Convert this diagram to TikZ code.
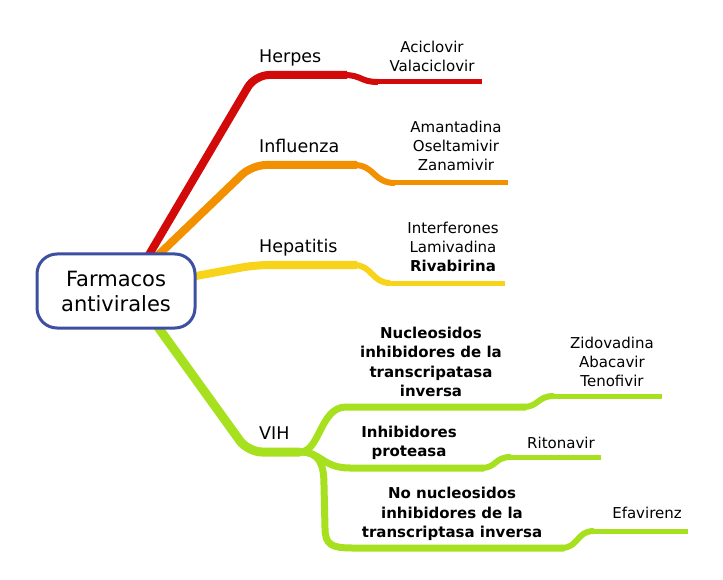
\documentclass[tikz,border=0pt]{standalone}
\usepackage{fontspec}
\setmainfont{DejaVu Sans}
\usepackage{tikz}
\usetikzlibrary{backgrounds}
\definecolor{herpesred}{HTML}{D20A0A}
\definecolor{fluorange}{HTML}{F29000}
\definecolor{hepyellow}{HTML}{F7D31A}
\definecolor{vihgreen}{HTML}{A6E01E}
\definecolor{rootblue}{HTML}{3D4FA0}
\tikzset{
  topic/.style={anchor=base west, inner sep=0pt,
    font=\fontsize{17.5}{21}\selectfont},
  drugs/.style={align=center, inner sep=0pt,
    font=\fontsize{15}{19}\selectfont},
  group/.style={align=center, inner sep=0pt,
    font=\fontsize{15}{19.5}\selectfont\bfseries},
  trunk/.style={line width=8pt, rounded corners=14pt},
  limb/.style={line width=7pt},
  swerve/.style={line width=6pt},
  twig/.style={line width=5pt}
}

\begin{document}
\begin{tikzpicture}[x=1pt, y=-1pt]
\useasboundingbox (0,0) rectangle (723,580);

% Central idea
\node [draw=rootblue,
    line width=3pt,
    fill=white,
    rounded corners=20pt,
    minimum width=158pt,
    minimum height=74pt,
    align=center,
    font=\fontsize{21}{25}\selectfont
]  (root) at (116,291) {Farmacos\\antivirales};

% Topics
\node [topic] (herpes) at (259,63) {Herpes};
\node [topic] (influenza) at (259,153) {Influenza};
\node [topic] (hepatitis) at (259,253) {Hepatitis};
\node [topic] (vih) at (259,439) {VIH};

% Drugs
\node [drugs] (herpesdrugs) at (432,56) {Aciclovir\\Valaciclovir};
\node [drugs] (fludrugs) at (456,146) {Amantadina\\Oseltamivir\\Zanamivir};
\node [drugs] (hepdrugs) at (453,247) {Interferones\\Lamivadina\\\textbf{Rivabirina}};

% VIH groups
\node [group] (nrti) at (431,362)
    {Nucleosidos\\inhibidores de la\\transcripatasa\\inversa};
\node [group] (proteasa) at (409,443) {Inhibidores\\proteasa};
\node [group] (nnrti) at (452,514)
    {No nucleosidos\\inhibidores de la\\transcriptasa inversa};

\node [drugs] (nrtidrugs) at (612,362) {Zidovadina\\Abacavir\\Tenofivir};
\node [drugs] (ritonavir) at (561,443) {Ritonavir};
\node [drugs] (efavirenz) at (647,513) {Efavirenz};

% Branch ends
\coordinate (herpesroot) at (140,270);
\coordinate (fluroot) at (150,263);
\coordinate (heproot) at (180,279);
\coordinate (vihroot) at (150,316);
\coordinate (vihhub) at (300,452);
\coordinate (herpesend) at (482,82);
\coordinate (fluend) at (508,183);
\coordinate (hepend) at (505,283);
\coordinate (nrtiend) at (662,396);
\coordinate (proteasaend) at (601,457);
\coordinate (nnrtiend) at (688,531);

\begin{pgfonlayer}{background}
% Herpes
\draw[herpesred, trunk] (herpesroot) -- (255,75) -- (347,75);
\draw[herpesred, swerve] (344,75) .. controls (362,75) and (360,82) .. (378,82);
\draw[herpesred, twig] (376,82) -- (herpesend);

% Influenza
\draw[fluorange, trunk] (fluroot) -- (252,165) -- (357,165);
\draw[fluorange, swerve] (354,165) .. controls (375,165) and (373,183) .. (395,183);
\draw[fluorange, twig] (393,183) -- (fluend);

% Hepatitis
\draw[hepyellow, trunk] (heproot) -- (255,265) -- (357,265);
\draw[hepyellow, swerve] (354,265) .. controls (372,265) and (372,283) .. (390,283);
\draw[hepyellow, twig] (388,283) -- (hepend);

% VIH
\draw[vihgreen, trunk, line width=9pt] (vihroot) -- (248,452) -- (vihhub);
\draw[vihgreen, limb] (vihhub) .. controls (320,452) and (320,407) .. (346,407)
    -- (526,407);
\draw[vihgreen, swerve] (523,407) .. controls (539,407) and (537,396) .. (554,396);
\draw[vihgreen, twig] (552,396) -- (nrtiend);
\draw[vihgreen, limb] (vihhub) .. controls (322,452) and (322,468) .. (350,468)
    -- (484,468);
\draw[vihgreen, swerve] (481,468) .. controls (497,468) and (494,457) .. (511,457);
\draw[vihgreen, twig] (509,457) -- (proteasaend);
\draw[vihgreen, limb] (vihhub) .. controls (318,452) and (324,462) .. (324,485)
    -- (325,528) .. controls (325,545) and (332,548) .. (352,548) -- (564,548);
\draw[vihgreen, swerve] (561,548) .. controls (579,548) and (576,531) .. (594,531);
\draw[vihgreen, twig] (592,531) -- (nnrtiend);
\end{pgfonlayer}

\end{tikzpicture}
\end{document}
